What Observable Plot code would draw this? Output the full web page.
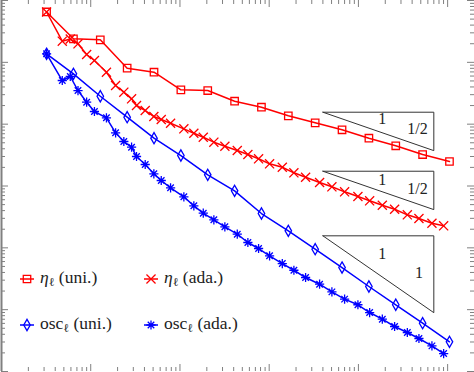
<!DOCTYPE html>
<html><head><meta charset="utf-8">
<script src="https://cdn.jsdelivr.net/npm/d3@7"></script>
<script src="https://cdn.jsdelivr.net/npm/@observablehq/plot@0.6"></script>
<style>
html,body{margin:0;padding:0;background:#fff}
#chart{width:474px;height:372px;overflow:hidden}
</style>
</head><body><div id="chart"></div>
<script>
// ---- data ----
const dofsUniform = [32, 64, 128, 256, 512, 1024, 2048, 4096, 8192, 16384, 32768, 65536, 131072, 262144, 524288, 1048576];
const etaUniform = [0.652, 0.240, 0.231, 0.0804, 0.0692, 0.0359, 0.0350, 0.0235, 0.0188, 0.01365, 0.01052, 0.00811, 0.00593, 0.00447, 0.00323, 0.00249];
const oscUniform = [0.1374, 0.0652, 0.0283, 0.01296, 0.00593, 0.00311, 0.001517, 0.000836, 0.000359, 0.0001885, 0.0000950, 0.0000480, 0.0000237, 0.0000120, 0.00000604, 0.00000302];

const dofsAdaptive = [32, 48, 59, 72, 90, 110, 150, 190, 235, 287, 326, 408, 510, 617, 785, 1106, 1431, 1825, 2399, 3187, 4389, 5770, 7606, 10104, 14030, 18920, 25590, 36730, 50460, 70020, 98720, 133600, 185300, 254500, 353400, 476800, 666800, 902000];
const etaAdaptive = [0.652, 0.2197, 0.2384, 0.1994, 0.1338, 0.1070, 0.0692, 0.0422, 0.0329, 0.0257, 0.02003, 0.01663, 0.01330, 0.01189, 0.01036, 0.00841, 0.00714, 0.00615, 0.00511, 0.00440, 0.00375, 0.00323, 0.002753, 0.002285, 0.002013, 0.001634, 0.001387, 0.001139, 0.000970, 0.000805, 0.000676, 0.000576, 0.000489, 0.000421, 0.000342, 0.000298, 0.000250, 0.000227];
const oscAdaptive = [0.1374, 0.0508, 0.0590, 0.0350, 0.02265, 0.01602, 0.01267, 0.00725, 0.00524, 0.00424, 0.00300, 0.002226, 0.001575, 0.001227, 0.000935, 0.000669, 0.000478, 0.000363, 0.000284, 0.0002187, 0.0001661, 0.0001219, 0.0000975, 0.0000743, 0.0000557, 0.0000434, 0.0000331, 0.0000258, 0.0000194, 0.0000148, 0.0000120, 0.00000899, 0.00000701, 0.00000534, 0.00000427, 0.00000342, 0.00000260, 0.00000195];

// slope triangles
const triX0 = [4e4, 4e4, 4e4];
const triX1 = [7e5, 7e5, 7e5];
const triTop = [0.01561, 0.001734, 0.0001564];
const triBottom = [0.003733, 0.000415, 0.00000894];
const triTopLabel = ["1", "1", "1"];
const triSideLabel = ["1/2", "1/2", "1"];
const triTopLabelX = [1.85e5, 1.85e5, 1.85e5];
const triTopLabelY = [0.01221, 0.001274, 0.0000809];
const triSideLabelX = [4.6e5, 4.6e5, 4.77e5];
const triSideLabelY = [0.00841, 0.000911, 0.0000389];

// legend
const legendMain = ["η", "η", "osc", "osc"];
const legendSub = ["ℓ", "ℓ", "ℓ", "ℓ"];
const legendRest = [" (uni.)", " (ada.)", " (uni.)", " (ada.)"];

const xDomain = [10, 2e6];
const yDomain = [1e-6, 1];

// ---- build ----
const RED = "#ff0000", BLUE = "#0000ff";
const star = {
  draw(ctx, size) {
    const r = Math.sqrt(size / Math.PI);
    const d = r * Math.SQRT1_2;
    ctx.moveTo(-r, 0); ctx.lineTo(r, 0);
    ctx.moveTo(0, -r); ctx.lineTo(0, r);
    ctx.moveTo(-d, -d); ctx.lineTo(d, d);
    ctx.moveTo(-d, d); ctx.lineTo(d, -d);
  }
};

const uni = dofsUniform.map((x, i) => ({x, eta: etaUniform[i], osc: oscUniform[i]}));
const ada = dofsAdaptive.map((x, i) => ({x, eta: etaAdaptive[i], osc: oscAdaptive[i]}));
const tris = [];
triX0.forEach((x0, i) => {
  tris.push({t: i, x: x0, y: triTop[i]});
  tris.push({t: i, x: triX1[i], y: triTop[i]});
  tris.push({t: i, x: triX1[i], y: triBottom[i]});
  tris.push({t: i, x: x0, y: triTop[i]});
});
const triLabels = [];
triX0.forEach((_, i) => {
  triLabels.push({x: triTopLabelX[i], y: triTopLabelY[i], s: triTopLabel[i]});
  triLabels.push({x: triSideLabelX[i], y: triSideLabelY[i], s: triSideLabel[i]});
});

const W = 474, H = 372, mL = 1, mR = 0, mT = 0, mB = 1;
const innerW = W - mL - mR, innerH = H - mT - mB;
const xTicks = d3.scaleLog().domain(xDomain).ticks();
const yTicks = d3.scaleLog().domain(yDomain).ticks();
const isMajor = d => Math.abs(Math.log10(d) - Math.round(Math.log10(d))) < 1e-9;
const xMaj = xTicks.filter(isMajor), xMin = xTicks.filter(d => !isMajor(d));
const yMaj = yTicks.filter(isMajor), yMin = yTicks.filter(d => !isMajor(d));
const TC = "#808080", LMAJ = 7, LMIN = 4;

const plot = Plot.plot({
  width: W, height: H,
  marginLeft: mL, marginRight: mR, marginTop: mT, marginBottom: mB,
  x: {type: "log", domain: xDomain, axis: null},
  y: {type: "log", domain: yDomain, axis: null},
  style: {background: "white"},
  marks: [
    // ticks (inward, all four sides)
    Plot.tickX(xMaj, {x: d => d, insetBottom: innerH - LMAJ, stroke: TC}),
    Plot.tickX(xMin, {x: d => d, insetBottom: innerH - LMIN, stroke: TC}),
    Plot.tickX(xMaj, {x: d => d, insetTop: innerH - LMAJ, stroke: TC}),
    Plot.tickX(xMin, {x: d => d, insetTop: innerH - LMIN, stroke: TC}),
    Plot.tickY(yMaj, {y: d => d, insetRight: innerW - LMAJ, stroke: TC}),
    Plot.tickY(yMin, {y: d => d, insetRight: innerW - LMIN, stroke: TC}),
    Plot.tickY(yMaj, {y: d => d, insetLeft: innerW - LMAJ, stroke: TC}),
    Plot.tickY(yMin, {y: d => d, insetLeft: innerW - LMIN, stroke: TC}),
    Plot.ruleX([xDomain[0]], {stroke: TC, strokeWidth: 2}),
    // slope triangles
    Plot.line(tris, {x: "x", y: "y", z: "t", stroke: "#333", strokeWidth: 1, curve: "linear"}),
    Plot.text(triLabels, {x: "x", y: "y", text: "s", fontFamily: "'Liberation Serif', serif", fontSize: 16, fill: "#222"}),
    // series
    Plot.line(uni, {x: "x", y: "eta", stroke: RED, strokeWidth: 1.5}),
    Plot.line(ada, {x: "x", y: "eta", stroke: RED, strokeWidth: 1.5}),
    Plot.line(uni, {x: "x", y: "osc", stroke: BLUE, strokeWidth: 1.5}),
    Plot.line(ada, {x: "x", y: "osc", stroke: BLUE, strokeWidth: 1.5}),
    Plot.dot(uni, {x: "x", y: "eta", symbol: "square", r: 4.2, stroke: RED, fill: "none", strokeWidth: 1.3}),
    Plot.dot(ada, {x: "x", y: "eta", symbol: "times", r: 4.2, stroke: RED, fill: "none", strokeWidth: 1.3}),
    Plot.dot(uni, {x: "x", y: "osc", symbol: "diamond", r: 3.4, stroke: BLUE, fill: "none", strokeWidth: 1.3}),
    Plot.dot(ada, {x: "x", y: "osc", symbol: star, r: 4.6, stroke: BLUE, fill: "none", strokeWidth: 1.3})
  ]
});
document.getElementById("chart").appendChild(plot);

// legend inside the plot area
const svg = d3.select(plot);
const legendSymbols = [d3.symbolSquare, d3.symbolTimes, d3.symbolDiamond, star];
const legendR = [4.2, 4.2, 3.4, 4.6];
const legendColor = [RED, RED, BLUE, BLUE];
const colX = [27, 151], rowY = [279, 325], textDx = 13;
const g = svg.append("g").attr("text-anchor", "start");
legendMain.forEach((m, i) => {
  const cx = colX[i % 2], cy = rowY[Math.floor(i / 2)];
  g.append("line").attr("x1", cx - 7).attr("x2", cx + 7).attr("y1", cy).attr("y2", cy)
    .attr("stroke", legendColor[i]).attr("stroke-width", 1.5);
  g.append("path").attr("transform", `translate(${cx},${cy})`)
    .attr("d", d3.symbol(legendSymbols[i], legendR[i] * legendR[i] * Math.PI)())
    .attr("fill", "none").attr("stroke", legendColor[i]).attr("stroke-width", 1.3);
  const t = g.append("text").attr("x", cx + textDx).attr("y", cy + 4)
    .attr("text-anchor", "start")
    .attr("font-family", "'Liberation Serif', serif").attr("font-size", 17.5).attr("fill", "#222");
  t.append("tspan").attr("font-style", m === "η" ? "italic" : "normal").text(m);
  t.append("tspan").attr("font-size", 12).attr("dy", 3).text(legendSub[i]);
  t.append("tspan").attr("dy", -3).text(legendRest[i]);
});
</script>
</body></html>
